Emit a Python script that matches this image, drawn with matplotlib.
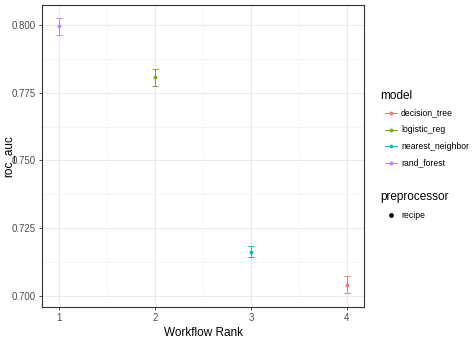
import numpy as np
import matplotlib.pyplot as plt
from matplotlib.lines import Line2D

plt.rcParams['font.family'] = ['Liberation Sans', 'DejaVu Sans']

# workflow results
rank = [1, 2, 3, 4]
models = ['rand_forest', 'logistic_reg', 'nearest_neighbor', 'decision_tree']
roc_auc = [0.7995, 0.7807, 0.7163, 0.7042]
std_err = [0.0030, 0.0031, 0.0020, 0.0033]

legend_models = ['decision_tree', 'logistic_reg', 'nearest_neighbor', 'rand_forest']
colors = {'decision_tree': '#F8766D', 'logistic_reg': '#7CAE00',
          'nearest_neighbor': '#00BFC4', 'rand_forest': '#C77CFF'}

W, H = 474, 338
fig = plt.figure(figsize=(W / 100, H / 100), dpi=100)
ax = fig.add_axes([42 / W, 1 - 307 / H, (364 - 42) / W, (307 - 5) / H])

for r, m, v, e in zip(rank, models, roc_auc, std_err):
    ax.errorbar(r, v, yerr=e, fmt='o', color=colors[m], ms=1.8,
                elinewidth=0.7, capsize=2.3, capthick=0.7, zorder=3)

ax.set_xlim(0.82, 4.18)
ax.set_ylim(0.6959, 0.8074)
ax.set_xticks(rank)
ax.set_yticks([0.700, 0.725, 0.750, 0.775, 0.800])
ax.set_yticklabels(['0.700', '0.725', '0.750', '0.775', '0.800'])
ax.set_xticks([1.5, 2.5, 3.5], minor=True)
ax.set_yticks([0.7125, 0.7375, 0.7625, 0.7875], minor=True)
ax.grid(which='major', color='#EBEBEB', lw=0.8)
ax.grid(which='minor', color='#F3F3F3', lw=0.5)
ax.set_axisbelow(True)
ax.tick_params(which='major', length=2.5, width=0.6, color='#333333',
               labelsize=7, labelcolor='#4D4D4D', pad=2)
ax.tick_params(which='minor', length=0)
for s in ax.spines.values():
    s.set_color('#333333')
    s.set_linewidth(0.8)

ax.set_xlabel('Workflow Rank', fontsize=8.5, labelpad=3)


def fx(x):
    return x / W


def fy(y):
    return 1 - y / H


fig.text(fx(8), fy(156), 'roc_auc', fontsize=8.5, rotation=90,
         ha='center', va='center')

# legend
fig.text(fx(380), fy(96), 'model', fontsize=8.5, va='center')
for i, m in enumerate(legend_models):
    y = 113 + i * 16.7
    fig.add_artist(Line2D([fx(385), fx(397)], [fy(y), fy(y)], color=colors[m], lw=0.7))
    fig.add_artist(Line2D([fx(391)], [fy(y)], marker='o', ms=1.8, color=colors[m]))
    fig.text(fx(401), fy(y), m, fontsize=6.2, va='center')

fig.text(fx(380), fy(197), 'preprocessor', fontsize=8.5, va='center')
fig.add_artist(Line2D([fx(391)], [fy(215)], marker='o', ms=2.4, color='black'))
fig.text(fx(401), fy(215), 'recipe', fontsize=6.2, va='center')

fig.savefig('out.png', dpi=100)
